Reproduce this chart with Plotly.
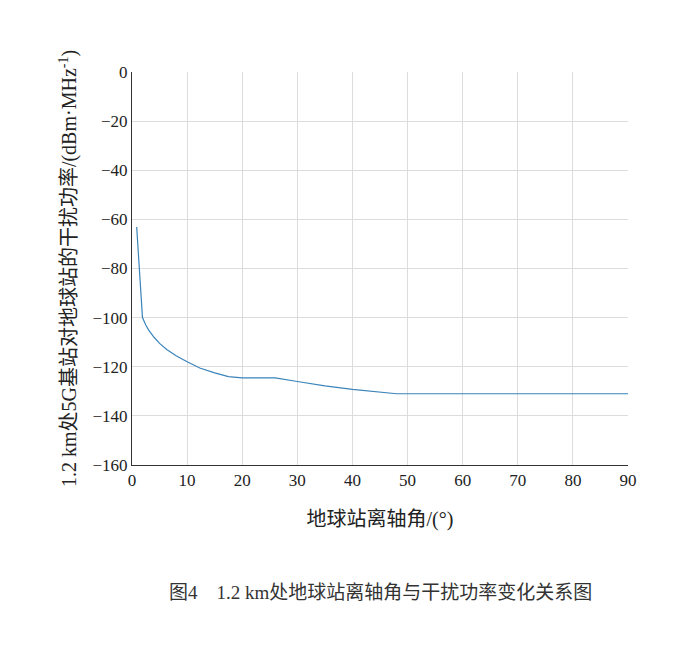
import plotly.graph_objects as go

angle = [0.85, 1.9, 2.5, 3, 4, 5, 6.3, 8, 10, 12.3, 15, 17.5, 20, 26, 30, 35, 40, 45, 48, 60, 70, 80, 90]
power = [-63.1, -100, -103, -105, -108, -110.5, -113, -115.5, -118, -120.5, -122.5, -124, -124.5, -124.5, -126, -127.8, -129.2, -130.4, -131, -131, -131, -131, -131]

xticks = list(range(0, 91, 10))
yticks = list(range(0, -161, -20))

font = "Liberation Serif, Noto Sans CJK SC"

fig = go.Figure(go.Scatter(x=angle, y=power, mode="lines",
                           line=dict(color="#3b84ba", width=1.2)))

fig.update_layout(
    width=683, height=652,
    plot_bgcolor="white", paper_bgcolor="white",
    margin=dict(l=124, r=63, t=64, b=195),
    showlegend=False,
    font=dict(family=font, size=17, color="#222"),
    xaxis=dict(range=[0, 90], tickvals=xticks, gridcolor="#dcdcdc", zeroline=False,
               showline=True, linecolor="#333", mirror=False, ticks="",
               title=dict(text="地球站离轴角/(°)", standoff=22)),
    yaxis=dict(range=[-160, 0], tickvals=yticks, gridcolor="#dcdcdc", zeroline=False,
               showline=True, linecolor="#333", ticks="",
               title=dict(text="1.2 km处5G基站对地球站的干扰功率/(dBm·MHz<sup>-1</sup>)", standoff=10)),
)
fig.add_annotation(xref="paper", yref="paper", x=0.5, y=-0.355, showarrow=False,
                   text="图4    1.2 km处地球站离轴角与干扰功率变化关系图",
                   font=dict(size=19, color="#333"))

fig.write_html("out.html")
